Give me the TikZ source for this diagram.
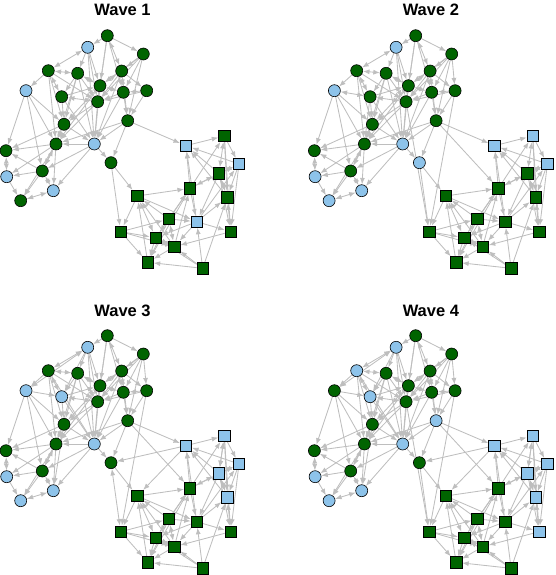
\documentclass[tikz,border=0pt]{standalone}
\usepackage{fontspec}
\setmainfont{Liberation Sans}
\usetikzlibrary{arrows.meta}
\pgfdeclarelayer{edgelayer}
\pgfsetlayers{edgelayer,main}
\definecolor{ngreen}{HTML}{006400}
\definecolor{nblue}{HTML}{8DC3EA}
\definecolor{egray}{HTML}{BEBEBE}
\tikzset{
  cnode/.style={circle, draw=black, line width=0.6pt, minimum size=12pt, inner sep=0pt},
  snode/.style={rectangle, draw=black, line width=0.6pt, minimum size=11.5pt, inner sep=0pt},
  link/.style={draw=egray, line width=0.85pt},
  uni/.style={-{Latex[length=6.5pt,width=5pt]}},
  bi/.style={{Latex[length=6.5pt,width=5pt]}-{Latex[length=6.5pt,width=5pt]}},
  wtitle/.style={anchor=base, inner sep=0pt, font=\bfseries\fontsize{16.5}{19}\selectfont}
}
\def\CircNodes{c1/107.3/35.7,c2/87.7/47.3,c3/143.3/54,c4/48.3/70.7,c5/77.7/73.3,c6/121.7/71,c7/100/85.7,c8/123.3/92.3,c9/26/90.7,c10/61.7/96.7,c11/146.7/90.7,c12/97.7/101.7,c13/127.7/120.7,c14/64/124.3,c15/56/144,c16/94.3/144,c17/6/150.7,c18/111/162.7,c19/42.3/171,c20/6.7/176.7,c21/53.3/190.7,c22/20.7/200.7}
\def\SqNodes{s1/186/145.7,s2/224.3/136,s3/239/164,s4/219/173.3,s5/190/188.3,s6/137.3/196,s7/227.3/197.3,s8/169/219,s9/196.7/221.7,s10/120.7/231.7,s11/230.7/231.7,s12/155.7/237.7,s13/174.3/246.7,s14/147.7/262.3,s15/202.7/268.3}
\def\BaseUni{c1/c3,c1/c7,c1/c8,c1/c12,c1/c2,
c2/c5,c2/c12,c2/c16,c2/c7,
c3/c6,c3/c8,c3/c13,c3/c12,c3/c7,
c4/c9,c4/c14,c4/c15,c4/c12,
c5/c12,c5/c16,c5/c15,c5/c10,c5/c14,
c6/c12,c6/c11,c6/c16,c6/c13,
c7/c16,c7/c15,c7/c14,
c8/c16,c8/c13,c8/c12,
c9/c15,c9/c14,c9/c19,
c10/c7,c10/c14,c10/c16,
c11/c13,c11/c8,c11/c12,
c12/c16,c12/c15,c12/c14,
c13/c16,c13/c18,c13/c15,
c16/c18,c16/c21,c16/c19,c16/c15,c14/c16,
c15/c17,c15/c20,c15/c21,c15/c22,
c19/c17,c19/c20,c19/c22,
c20/c22,c14/c19,c9/c17,c14/c17,
s1/s2,s5/s1,s4/s1,s3/s1,s7/s1,s9/s1,
s2/s3,s5/s2,s2/s7,s2/s11,
s3/s7,s3/s11,s9/s3,s5/s3,
s6/s5,s5/s9,s8/s5,s12/s5,s13/s5,s5/s14,
s6/s10,s8/s6,s14/s6,s13/s6,s6/s9,
s10/s14,s10/s12,s10/s13,s10/s8,
s9/s13,s9/s12,s15/s9,s15/s13,s15/s14,s15/s12,
s11/s13,s15/s7,s9/s11,s8/s9,
s12/s14,s13/s14,s8/s12,s8/s14,s4/s11,s9/s7,s4/s9}
\def\BaseBi{c2/c4,c4/c5,c5/c7,c6/c7,c6/c8,c7/c12,c7/c8,c10/c12,c14/c15,c15/c19,c17/c20,c21/c22,c19/c21,c4/c10,
s4/s7,s5/s4,s6/s12,s8/s13,s12/s13,s7/s11,s3/s4,s2/s4}
\def\WaUni{c13/s1,c18/s6,c18/s10}
\def\WaBi{c1/c6}
\def\WbUni{c13/s1,c13/s5,c18/s6,c18/s10,c12/s10,c11/s10,c3/c11,c10/c15}
\def\WbBi{c1/c6,c9/c10}
\def\WcUni{c13/s1,c13/s5,s1/c18,c18/s6,c11/s10,c9/c10,c3/c11,c2/c10,c14/c21,c4/c16,s1/s6}
\def\WcBi{c18/s10,c1/c6,c2/c9,s4/s2}
\def\WdUni{c13/s1,c13/s5,s1/c18,c18/s6,c18/s10,c12/s10,c11/s10,c3/c11,c2/c10,c14/c21,c9/c10,c4/c16,s1/s6}
\def\WdBi{c1/c6,c2/c9,s4/s2}
\newcommand\mkblue[2]{\foreach \q in {#2}{\expandafter\gdef\csname isblue#1\q\endcsname{}}}
\newcommand\wavepanel[6]{%
  \node[wtitle] (#1title) at ({122.5+#2},{16+#3}) {#4};
  \foreach \n/\x/\y in \CircNodes {%
    \ifcsname isblue#1\n\endcsname\def\fc{nblue}\else\def\fc{ngreen}\fi
    \node[cnode, fill=\fc] (#1\n) at ({\x+#2},{\y+#3}) {};
  }
  \foreach \n/\x/\y in \SqNodes {%
    \ifcsname isblue#1\n\endcsname\def\fc{nblue}\else\def\fc{ngreen}\fi
    \node[snode, fill=\fc] (#1\n) at ({\x+#2},{\y+#3}) {};
  }
  \begin{pgfonlayer}{edgelayer}
    \foreach \a/\b in \BaseUni {\draw[link,uni] (#1\a) -- (#1\b);}
    \foreach \a/\b in \BaseBi {\draw[link,bi] (#1\a) -- (#1\b);}
    \foreach \a/\b in #5 {\draw[link,uni] (#1\a) -- (#1\b);}
    \foreach \a/\b in #6 {\draw[link,bi] (#1\a) -- (#1\b);}
  \end{pgfonlayer}
}
\mkblue{A}{c2,c9,c16,c20,c21,s1,s3,s9}
\mkblue{B}{c2,c9,c16,c18,c20,c21,c22,s1,s2,s3}
\mkblue{C}{c2,c9,c10,c16,c20,c21,c22,s1,s2,s3,s4,s7}
\mkblue{D}{c2,c4,c10,c13,c16,c20,c21,c22,s1,s2,s3,s4,s7,s11}
\begin{document}
\begin{tikzpicture}[x=1pt,y=-1pt]
  \useasboundingbox (0,0) rectangle (555,575);
  \wavepanel{A}{0}{0}{Wave 1}{\WaUni}{\WaBi}
  \wavepanel{B}{308.4}{0}{Wave 2}{\WbUni}{\WbBi}
  \wavepanel{C}{0}{300}{Wave 3}{\WcUni}{\WcBi}
  \wavepanel{D}{308.4}{300}{Wave 4}{\WdUni}{\WdBi}
\end{tikzpicture}
\end{document}
